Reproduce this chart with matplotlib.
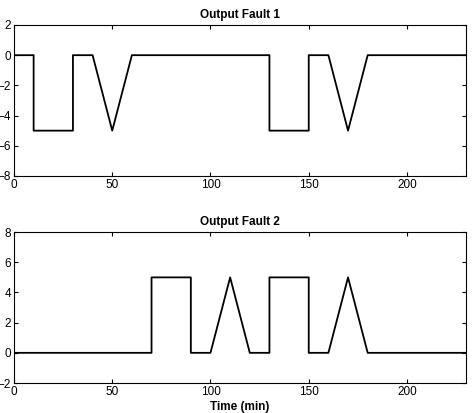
import numpy as np
import matplotlib
matplotlib.use("Agg")
import matplotlib.pyplot as plt

# breakpoints of the two fault signals (time in min, value)
t1 = [0, 10, 10, 30, 30, 40, 50, 60, 130, 130, 150, 150, 160, 170, 180, 230]
y1 = [0, 0, -5, -5, 0, 0, -5, 0, 0, -5, -5, 0, 0, -5, 0, 0]

t2 = [0, 70, 70, 90, 90, 100, 110, 120, 130, 130, 150, 150, 160, 170, 180, 230]
y2 = [0, 0, 5, 5, 0, 0, 5, 0, 0, 5, 5, 0, 0, 5, 0, 0]

x_ticks = [0, 50, 100, 150, 200]
y1_ticks = [-8, -6, -4, -2, 0, 2]
y2_ticks = [-2, 0, 2, 4, 6, 8]

plt.rcParams['font.family'] = ['Liberation Sans', 'DejaVu Sans']

fig = plt.figure(figsize=(4.74, 4.13), dpi=100)
ax1 = fig.add_axes([0.0295, 0.574, 0.9535, 0.3655])
ax2 = fig.add_axes([0.0295, 0.0726, 0.9535, 0.3654])

for ax, t, y, yt, title in [(ax1, t1, y1, y1_ticks, "Output Fault 1"),
                            (ax2, t2, y2, y2_ticks, "Output Fault 2")]:
    ax.plot(t, y, color='black', lw=1.3)
    ax.set_xlim(0, 230)
    ax.set_ylim(yt[0], yt[-1])
    ax.set_xticks(x_ticks)
    ax.set_yticks(yt)
    ax.tick_params(direction='in', top=True, right=True, labelsize=8.5, length=3, pad=2)
    ax.set_title(title, fontsize=8.5, fontweight='bold', pad=5)
    for s in ax.spines.values():
        s.set_linewidth(0.8)

ax2.set_xlabel("Time (min)", fontsize=8.5, fontweight='bold', labelpad=2)

fig.savefig("out.png", dpi=100)
